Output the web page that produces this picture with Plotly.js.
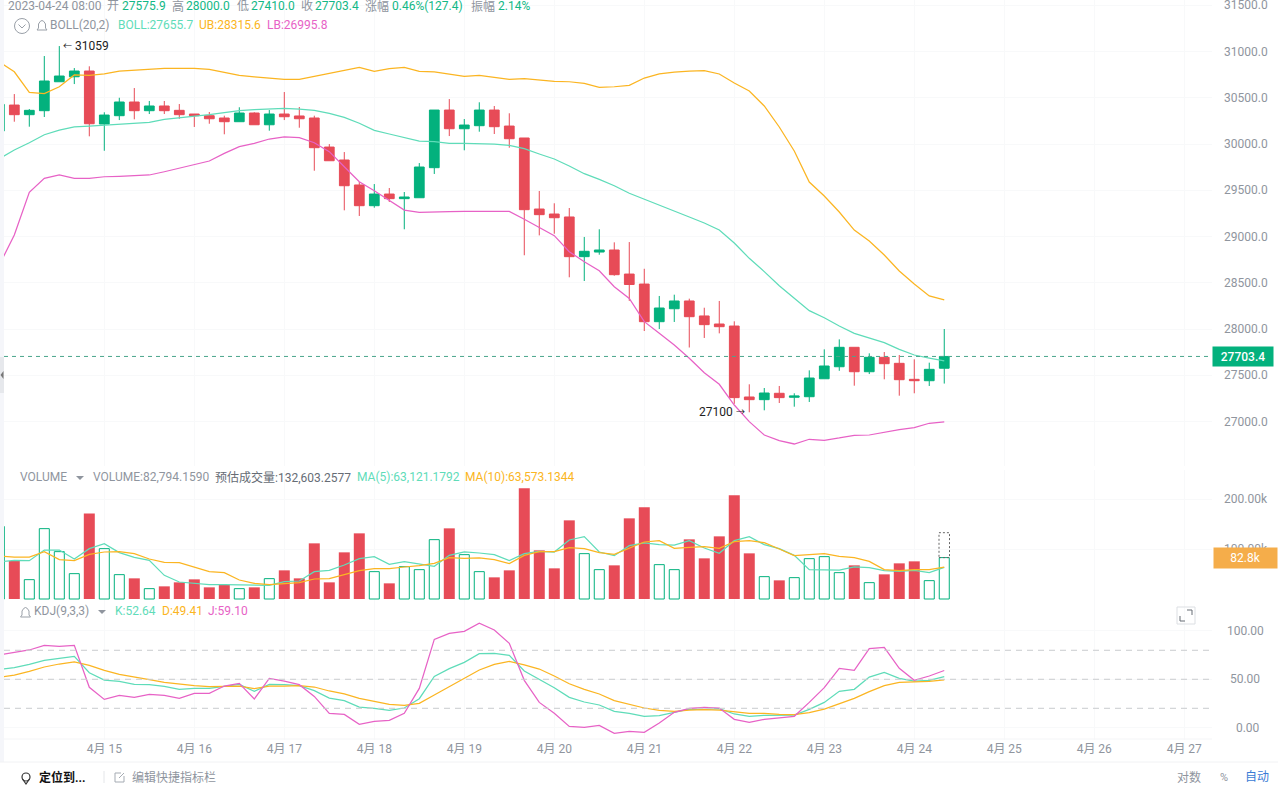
<!DOCTYPE html>
<html><head><meta charset="utf-8">
<script src="https://cdn.plot.ly/plotly-3.0.1.min.js"></script>
<style>html,body{margin:0;padding:0;background:#fff;overflow:hidden}#chart{width:1278px;height:792px}</style>
</head><body><div id="chart"></div>
<script>
const times = [
'2023-04-13 20:00',
'2023-04-14 00:00','2023-04-14 04:00','2023-04-14 08:00','2023-04-14 12:00','2023-04-14 16:00','2023-04-14 20:00',
'2023-04-15 00:00','2023-04-15 04:00','2023-04-15 08:00','2023-04-15 12:00','2023-04-15 16:00','2023-04-15 20:00',
'2023-04-16 00:00','2023-04-16 04:00','2023-04-16 08:00','2023-04-16 12:00','2023-04-16 16:00','2023-04-16 20:00',
'2023-04-17 00:00','2023-04-17 04:00','2023-04-17 08:00','2023-04-17 12:00','2023-04-17 16:00','2023-04-17 20:00',
'2023-04-18 00:00','2023-04-18 04:00','2023-04-18 08:00','2023-04-18 12:00','2023-04-18 16:00','2023-04-18 20:00',
'2023-04-19 00:00','2023-04-19 04:00','2023-04-19 08:00','2023-04-19 12:00','2023-04-19 16:00','2023-04-19 20:00',
'2023-04-20 00:00','2023-04-20 04:00','2023-04-20 08:00','2023-04-20 12:00','2023-04-20 16:00','2023-04-20 20:00',
'2023-04-21 00:00','2023-04-21 04:00','2023-04-21 08:00','2023-04-21 12:00','2023-04-21 16:00','2023-04-21 20:00',
'2023-04-22 00:00','2023-04-22 04:00','2023-04-22 08:00','2023-04-22 12:00','2023-04-22 16:00','2023-04-22 20:00',
'2023-04-23 00:00','2023-04-23 04:00','2023-04-23 08:00','2023-04-23 12:00','2023-04-23 16:00','2023-04-23 20:00',
'2023-04-24 00:00','2023-04-24 04:00','2023-04-24 08:00'];
const opens = [30140,30421,30317,30360,30673,30727,30789,30216,30306,30454,30360,30411,30364,30324,30306,30281,30241,30335,30208,30324,30303,30281,29967,29827,29557,29333,29459,29409,29419,29744,30367,30165,30198,30367,30194,30065,29297,29243,29211,28782,28832,28854,28594,28486,28079,28219,28303,28141,28054,28032,27265,27236,27305,27262,27268,27462,27592,27802,27538,27694,27629,27456,27441,27575.9];
const highs = [30429,30540,30378,30951,31059,30821,30840,30343,30500,30605,30465,30465,30432,30324,30346,30306,30397,30343,30367,30562,30400,30306,29999,29913,29589,29567,29524,29481,29794,30367,30486,30270,30451,30411,30332,30065,29492,29359,29308,28995,29078,28937,28940,28651,28357,28371,28328,28230,28303,28083,27402,27362,27384,27305,27553,27780,27888,27802,27737,27751,27719,27672,27636,28000];
const lows = [30140,30241,30187,30292,30673,30648,30083,29927,30259,30267,30324,30324,30273,30184,30219,30105,30241,30208,30144,30259,30176,29711,29819,29283,29222,29311,29373,29078,29419,29676,30086,29932,30133,30108,29960,28797,29012,29030,28559,28519,28803,28576,28304,27978,28000,28076,27800,27903,27953,27191,27100,27121,27200,27160,27211,27462,27548,27387,27513,27456,27279,27305,27384,27410];
const closes = [30429,30317,30364,30681,30735,30789,30219,30313,30454,30360,30411,30360,30317,30306,30273,30241,30335,30208,30324,30295,30273,29960,29819,29549,29333,29459,29409,29427,29751,30367,30165,30205,30367,30187,30057,29290,29236,29203,28782,28840,28854,28587,28481,28079,28227,28303,28133,28047,28025,27258,27236,27308,27258,27276,27470,27600,27802,27538,27694,27625,27452,27441,27564,27703.4];
const bollUp = [30886,30781,30559,30544,30619,30746,30742,30757,30789,30800,30811,30818,30818,30818,30807,30775,30742,30727,30710,30699,30699,30732,30771,30800,30829,30786,30814,30829,30786,30781,30753,30732,30742,30721,30699,30706,30692,30678,30673,30656,30613,30619,30634,30713,30757,30778,30789,30794,30757,30659,30573,30411,30184,29924,29589,29438,29265,29070,28951,28800,28627,28486,28357,28315.6];
const bollMid = [29841,29935,30014,30100,30151,30184,30194,30205,30216,30227,30234,30267,30281,30299,30317,30338,30360,30371,30381,30386,30378,30364,30332,30288,30224,30148,30108,30068,30032,30025,30007,30007,30007,29999,29986,29949,29892,29838,29762,29679,29618,29549,29467,29405,29340,29276,29211,29146,29070,28930,28764,28620,28468,28332,28198,28122,28032,27953,27903,27852,27780,27719,27686,27655.7];
const bollLow = [28692,29016,29478,29629,29665,29629,29629,29646,29651,29657,29665,29700,29737,29773,29816,29899,29971,30007,30054,30076,30068,30014,29917,29754,29592,29495,29391,29286,29262,29262,29268,29272,29272,29272,29272,29186,29095,29009,28836,28728,28630,28457,28330,28079,27953,27827,27683,27527,27402,27178,26998,26854,26793,26757,26808,26797,26822,26851,26854,26884,26912,26934,26981,26995.8];
const volumes = [145000,76000,38700,140700,94700,50700,171000,100700,48700,41300,20700,25300,33300,39300,23300,28000,20700,23300,40700,57300,41300,111300,33300,93300,131300,54700,31300,64700,58700,118700,141300,88700,54700,43300,57300,221300,97300,61300,157300,90700,58700,67300,161300,183300,68700,58700,119300,81300,125300,207300,91300,44700,37300,42700,80700,84700,52700,67300,32700,49300,71300,75300,36700,82794.159];
const volMa5 = [74000,77300,76700,98000,98000,80000,100700,110700,92700,83300,77300,47300,34000,30700,28700,28700,28700,27300,27300,34700,36000,54700,57300,68000,80700,84700,69300,74700,69300,65300,87300,94000,92000,88700,76700,90700,95300,94000,118000,124700,94000,86700,106700,112000,108700,108000,116700,102000,91300,116700,124700,108700,100700,87300,58700,58000,58000,64000,62700,56700,55300,57300,52700,63121.1792];
const volMa10 = [86000,84000,84000,94700,78700,76700,89300,94000,94700,90700,80000,73300,72700,63300,54700,52700,38000,31300,28700,30700,32700,40000,40700,48700,56700,60700,60700,64000,66700,71300,82700,81300,82000,78700,70700,87300,94700,94700,102700,100700,92700,89300,101300,114000,116700,101300,103300,104700,101300,114700,116700,112700,100000,86700,88700,90700,85300,82700,75300,58700,56700,58700,58700,63573.1344];
const estimatedVolume = 132603.2577;
const kLine = [60.3,62,65.4,69.6,71.7,73.7,56.8,49.2,47.9,44.8,44.4,42.7,39.6,40.6,40.6,42.7,44.8,37.5,44.8,44.4,43.4,38.2,30.6,27.9,21.3,19.9,17.9,20.3,29.9,53,61,67.5,76.5,76.8,74.8,58.6,49.9,41.3,31.3,26.5,23.4,16.8,14.8,11.7,12.3,15.8,19.2,18.9,19.6,14.1,11.7,12.7,12.7,13,18.9,26.1,37.5,39.6,52.3,57.2,51,48.2,48.9,52.64];
const dLine = [52,54.4,58.2,62.7,65.8,67.9,64.4,59.2,55.1,52,49.6,46.8,44.8,43.4,42.3,42.3,43,40.3,43,43,43.4,42,37.9,34.8,30.3,27.2,24.1,23,25.1,33.7,42.3,51.3,59.6,65.4,68.6,64.8,60.6,53.4,45.4,39.6,34.8,27.9,24.1,20.3,17.9,16.8,18.2,18.6,18.2,16.8,14.8,14.8,13.7,13.4,15.4,19.2,25.1,30.3,37.2,43.4,46.8,47.2,47.9,49.41];
const jLine = [75.1,77.5,80.3,85.1,84.1,85.1,41.7,29.2,33.4,31.3,34.4,33.4,30.3,35.4,35.4,43,45.8,29.6,51,48.2,44.4,32.3,14.8,13.7,3.4,6.5,7.5,14.8,40.6,91.3,97.5,99.6,107.9,101,87.2,48.9,26.1,14.8,1.3,0.3,2.3,-5.9,-3.9,-4.9,4.8,15.8,19.9,21,20.3,8.6,5.4,8.6,10.3,11.7,26.1,41.3,61.3,59.2,81.7,83,61.3,48.9,53.4,59.1];
const dayTicks = ['2023-04-15','2023-04-16','2023-04-17','2023-04-18','2023-04-19','2023-04-20','2023-04-21','2023-04-22','2023-04-23','2023-04-24','2023-04-25','2023-04-26','2023-04-27'];
const dayLabels = ['4月 15','4月 16','4月 17','4月 18','4月 19','4月 20','4月 21','4月 22','4月 23','4月 24','4月 25','4月 26','4月 27'];
const priceTicks = [27000,27500,28000,28500,29000,29500,30000,30500,31000,31500];
const volTicks = [100000,200000];
const volTickLabels = ['100.00k','200.00k'];
const kdjTicks = [0,50,100];
const kdjTickLabels = ['\u00A0\u00A0\u00A0\u00A00.00','\u00A0\u00A050.00','\u00A0100.00'];
const kdjLevels = [20,50,80];

const GREEN='#03b17d', RED='#e74b57', TEAL='#5fdcb9', ORANGE='#fbb522', PINK='#e762c6', GREY='#8f959e';
const FONT="Roboto, 'Noto Sans CJK SC', sans-serif";
const W=1208, H=740, HOUR=3600000;
const px=x=>(x-4)/W, py=y=>1-y/H, P=(x,y)=>px(x)+','+py(y);

const line=(y,color,ya)=>({type:'scatter',mode:'lines',x:times,y:y,xaxis:'x',yaxis:ya,line:{color:color,width:1.25},hoverinfo:'skip'});
const isUp=closes.map((c,i)=>c>=opens[i]);
const data=[
 {type:'candlestick',x:times,open:opens,high:highs,low:lows,close:closes,xaxis:'x',yaxis:'y',whiskerwidth:0,
  increasing:{line:{color:GREEN,width:1},fillcolor:GREEN},decreasing:{line:{color:RED,width:1},fillcolor:RED},hoverinfo:'skip'},
 line(bollUp,ORANGE,'y'),line(bollMid,TEAL,'y'),line(bollLow,PINK,'y'),
 {type:'bar',x:times,y:volumes,xaxis:'x',yaxis:'y2',width:isUp.map(u=>(u?2.67:2.93)*HOUR),
  marker:{color:isUp.map(u=>u?'#ffffff':RED),line:{color:isUp.map(u=>u?GREEN:RED),width:isUp.map(u=>u?1:0)}},hoverinfo:'skip'},
 line(volMa5,TEAL,'y2'),line(volMa10,ORANGE,'y2'),
 line(kLine,TEAL,'y3'),line(dLine,ORANGE,'y3'),line(jLine,PINK,'y3')
];

const lastT=times[times.length-1], lastMs=new Date(lastT.replace(' ','T')+'Z').getTime();
const fmtT=ms=>new Date(ms).toISOString().slice(0,19).replace('T',' ');
const shapes=[
 {type:'rect',xref:'paper',yref:'paper',x0:px(0),x1:px(4),y0:py(762),y1:py(0),fillcolor:'#f5f6fa',line:{width:0}},
 {type:'rect',xref:'paper',yref:'paper',x0:px(0),x1:px(4),y0:py(393),y1:py(357),fillcolor:'#e6e8ec',line:{width:0}},
 {type:'path',xref:'paper',yref:'paper',path:`M${P(3.5,371)}L${P(0.5,375)}L${P(3.5,379)}Z`,fillcolor:'#777',line:{width:0}},
 {type:'line',xref:'paper',yref:'y',x0:0,x1:1,y0:closes[closes.length-1],y1:closes[closes.length-1],line:{color:'#4aa58c',width:1,dash:'4px,4px'}},
 {type:'line',xref:'paper',yref:'paper',x0:px(0),x1:px(1278),y0:py(762),y1:py(762),line:{color:'#f1f2f4',width:1}},
 {type:'line',xref:'paper',yref:'paper',x0:0,x1:1,y0:py(739),y1:py(739),line:{color:'#f4f5f7',width:1}},
 {type:'rect',xref:'x',yref:'y2',x0:fmtT(lastMs-1.4*HOUR),x1:fmtT(lastMs+1.4*HOUR),y0:volumes[volumes.length-1],y1:estimatedVolume,line:{color:'#666',width:1,dash:'2px,2px'},fillcolor:'rgba(0,0,0,0)'},
 {type:'circle',xref:'paper',yref:'paper',x0:px(14.5),x1:px(29.5),y0:py(33.5),y1:py(18.5),line:{color:'#9aa0a8',width:1}},
 {type:'path',xref:'paper',yref:'paper',path:`M${P(18.5,24.5)}L${P(22,28)}L${P(25.5,24.5)}`,line:{color:'#9aa0a8',width:1}},
 {type:'path',xref:'paper',yref:'paper',path:`M${P(37,30)}L${P(38.5,28)}L${P(38.5,24)}Q${P(42,17)} ${P(45.5,24)}L${P(45.5,28)}L${P(47,30)}Z`,line:{color:'#9aa0a8',width:1}},
 {type:'path',xref:'paper',yref:'paper',path:`M${P(20.5,617)}L${P(22,615)}L${P(22,611)}Q${P(25.5,604)} ${P(29,611)}L${P(29,615)}L${P(30.5,617)}Z`,line:{color:'#9aa0a8',width:1}},
 {type:'path',xref:'paper',yref:'paper',path:`M${P(76,476)}L${P(84,476)}L${P(80,480)}Z`,fillcolor:'#8f959e',line:{width:0}},
 {type:'path',xref:'paper',yref:'paper',path:`M${P(98,610)}L${P(106,610)}L${P(102,614)}Z`,fillcolor:'#8f959e',line:{width:0}},
 {type:'rect',xref:'paper',yref:'paper',x0:px(1177),x1:px(1195),y0:py(624),y1:py(607),line:{color:'#dcdfe3',width:1}},
 {type:'path',xref:'paper',yref:'paper',path:`M${P(1187,610)}L${P(1192,610)}L${P(1192,615)}M${P(1180,616)}L${P(1180,621)}L${P(1185,621)}`,line:{color:'#666c75',width:1}},
 {type:'line',xref:'paper',yref:'y2',x0:px(1213),x1:px(1220),y0:volumes[volumes.length-1],y1:volumes[volumes.length-1],line:{color:'#ffffff',width:1},layer:'above'},
 {type:'circle',xref:'paper',yref:'paper',x0:px(22),x1:px(30),y0:py(781),y1:py(773),line:{color:'#333',width:1.2}},
 {type:'path',xref:'paper',yref:'paper',path:`M${P(22.5,779)}L${P(26,784)}L${P(29.5,779)}`,line:{color:'#333',width:1.2}},
 {type:'line',xref:'paper',yref:'paper',x0:px(104),x1:px(104),y0:py(783),y1:py(771),line:{color:'#e4e6e9',width:1}},
 {type:'path',xref:'paper',yref:'paper',path:`M${P(121,773)}L${P(115,773)}L${P(115,782)}L${P(124,782)}L${P(124,776)}M${P(119,778)}L${P(124,773)}`,line:{color:'#a5abb3',width:1}}
];

const T=(text,x,y,color,opt={})=>Object.assign({xref:'paper',yref:'paper',x:px(x-1),y:py(y),text:text,showarrow:false,xanchor:'left',yanchor:'middle',borderpad:0,
  font:{family:FONT,size:12,color:color}},opt);
const annotations=[
 T('2023-04-24 08:00',8,6,GREY),T('开',107,6,GREY),T('27575.9',122,6,'#12b886'),T('高',172,6,GREY),T('28000.0',186,6,'#12b886'),
 T('低',237,6,GREY),T('27410.0',251,6,'#12b886'),T('收',301,6,GREY),T('27703.4',315,6,'#12b886'),T('涨幅',365,6,GREY),T('0.46%(127.4)',392,6,'#12b886'),
 T('振幅',471,6,GREY),T('2.14%',498,6,'#12b886'),
 T('BOLL(20,2)',50,25,GREY),T('BOLL:27655.7',118,25,TEAL),T('UB:28315.6',199,25,ORANGE),T('LB:26995.8',267,25,PINK),
 T('VOLUME',20,477,GREY),T('VOLUME:82,794.1590',93,477,GREY),T('预估成交量:132,603.2577',215,477,'#666c75'),T('MA(5):63,121.1792',357,477,TEAL),T('MA(10):63,573.1344',465,477,ORANGE),
 T('KDJ(9,3,3)',34,611,GREY),T('K:52.64',115,611,TEAL),T('D:49.41',162,611,ORANGE),T('J:59.10',208,611,PINK),
 T('定位到...',39,777,'#111',{font:{family:FONT,size:12,color:'#111',weight:700}}),T('编辑快捷指标栏',132,777,GREY),T('对数',1177,777,GREY),T('%',1220,777,GREY,{font:{family:FONT,size:11,color:GREY}}),T('自动',1245,777,'#3a7bd5'),
 {xref:'x',yref:'y',x:'2023-04-14 12:00',y:31059,xshift:2,text:'←',showarrow:false,xanchor:'left',yanchor:'middle',font:{family:FONT,size:9,color:'#222'}},
 {xref:'x',yref:'y',x:'2023-04-14 12:00',y:31059,xshift:14,text:'31059',showarrow:false,xanchor:'left',yanchor:'middle',font:{family:FONT,size:12,color:'#222'}},
 {xref:'x',yref:'y',x:'2023-04-22 04:00',y:27100,xshift:-14,text:'27100',showarrow:false,xanchor:'right',yanchor:'middle',font:{family:FONT,size:12,color:'#222'}},
 {xref:'x',yref:'y',x:'2023-04-22 04:00',y:27100,xshift:-2,text:'→',showarrow:false,xanchor:'right',yanchor:'middle',font:{family:FONT,size:9,color:'#222'}},
 {xref:'paper',yref:'y',x:1,xshift:0,y:closes[closes.length-1],text:'27703.4',showarrow:false,xanchor:'left',yanchor:'middle',width:60,height:19,align:'center',valign:'middle',bgcolor:GREEN,borderpad:0,font:{family:FONT,size:12,color:'#fff',weight:500}},
 {xref:'paper',yref:'y2',x:1,xshift:1,y:volumes[volumes.length-1],text:'82.8k',showarrow:false,xanchor:'left',yanchor:'middle',width:63,height:20,align:'center',valign:'middle',bgcolor:'#f5ad4a',borderpad:0,font:{family:FONT,size:12,color:'#fff'}}
];
kdjLevels.forEach(v=>shapes.push({type:'line',xref:'paper',yref:'y3',x0:0,x1:0.9985,y0:v,y1:v,line:{color:'#c9cbce',width:1,dash:'6px,5px'}}));

const yBase={side:'right',anchor:'x',zeroline:false,showline:false,ticks:'',gridcolor:'#f8f9fa',gridwidth:1,fixedrange:true,
  tickfont:{family:FONT,size:12,color:GREY},ticklabelstandoff:11,ticklabeloverflow:'allow'};
const layout={
 width:1278,height:792,margin:{l:4,r:66,t:0,b:52,pad:0},paper_bgcolor:'#fff',plot_bgcolor:'#fff',showlegend:false,hovermode:false,dragmode:false,bargap:0,boxgap:0.35,boxgroupgap:0,
 xaxis:{type:'date',range:['2023-04-13 21:15','2023-04-27 07:24'],anchor:'y3',tickmode:'array',tickvals:dayTicks,ticktext:dayLabels,
   tickfont:{family:FONT,size:12,color:GREY},ticks:'',showline:false,zeroline:false,gridcolor:'#f8f9fa',rangeslider:{visible:false},fixedrange:true},
 yaxis:Object.assign({},yBase,{domain:[py(466),1],range:[26518.9,31556.8],tickmode:'array',tickvals:priceTicks,tickformat:'.1f'}),
 yaxis2:Object.assign({},yBase,{domain:[py(600),py(470)],range:[-2000,258000],tickmode:'array',tickvals:volTicks,ticktext:volTickLabels}),
 yaxis3:Object.assign({},yBase,{domain:[0,py(600)],range:[-12.8,132],tickmode:'array',tickvals:kdjTicks,ticktext:kdjTickLabels}),
 shapes:shapes,annotations:annotations
};
Plotly.newPlot('chart',data,layout,{displayModeBar:false,staticPlot:true});
</script></body></html>
